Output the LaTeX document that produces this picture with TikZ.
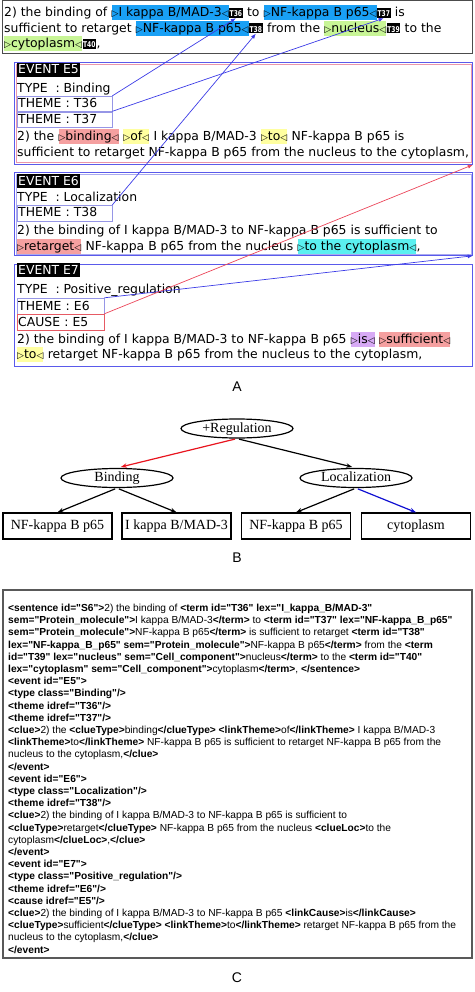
\documentclass[tikz,border=0pt]{standalone}
\usepackage{fontspec}
\setmainfont{Liberation Serif}
\newfontfamily\gothic{DejaVu Sans}
\newfontfamily\helv{Liberation Sans}
\usepackage{tikz}
\usetikzlibrary{arrows.meta,positioning,shapes.geometric}
\usepackage{xcolor}

\definecolor{hlblue}{RGB}{25,160,245}
\definecolor{hlgreen}{RGB}{200,245,150}
\definecolor{hlpink}{RGB}{245,160,160}
\definecolor{hlyellow}{RGB}{255,255,160}
\definecolor{hlcyan}{RGB}{90,240,240}
\definecolor{hlviolet}{RGB}{215,170,245}
\definecolor{linkblue}{RGB}{60,60,230}
\definecolor{linkred}{RGB}{235,70,90}
\definecolor{frameblue}{RGB}{90,90,235}
\definecolor{framepink}{RGB}{235,150,170}
\definecolor{framelav}{RGB}{170,170,240}
\definecolor{fieldblue}{RGB}{150,150,230}
\definecolor{fieldred}{RGB}{230,90,100}
\definecolor{treered}{RGB}{232,20,30}
\definecolor{treeblue}{RGB}{16,16,210}

\newcommand\evfont{\gothic\fontsize{12.4}{15}\selectfont}
\newcommand\xmlfont{\helv\fontsize{10.2}{12.2}\selectfont}
\newcommand\trL{{\fontsize{9}{9}\selectfont ▷}}
\newcommand\trR{{\fontsize{9}{9}\selectfont ◁}}
\newcommand\tid[1]{\scalebox{0.75}[1]{\bfseries #1}}
\newcommand\xb[1]{\textbf{#1}}
\newcommand\tsp{\ \mbox{}}

\begin{document}
\begin{tikzpicture}[x=1pt,y=-1pt]

    % --- Global Settings ---
    \tikzset{
        chunk/.style={inner sep=0pt, text height=11.5pt, text depth=3.5pt, font=\evfont, anchor=base west},
        hl/.style={chunk, fill=#1},
        idtag/.style={fill=black, text=white, inner xsep=0.6pt, inner ysep=0pt, text height=9pt, text depth=1pt, font=\gothic\fontsize{8}{8}\selectfont, anchor=base west},
        evhead/.style={fill=black, text=white, inner sep=1pt, text height=10pt, text depth=2pt, font=\evfont, anchor=west},
        field/.style={draw=#1, text width=93pt, align=left, inner xsep=1pt, inner ysep=0.5pt, text height=11.5pt, text depth=3.5pt, font=\evfont, anchor=west},
        evframe/.style={draw=frameblue, line width=0.8pt, anchor=north west, minimum width=458pt, inner sep=0pt},
        evlink/.style={-{Latex[length=5pt,width=4pt]}, draw=#1, line width=0.7pt},
        ev/.style={ellipse, draw, line width=1.2pt, minimum width=112pt, minimum height=19pt, inner sep=0pt, text height=9pt, text depth=1.5pt, font=\fontsize{14}{14}\selectfont},
        leaf/.style={rectangle, draw, line width=1.2pt, minimum width=109pt, minimum height=26pt, inner sep=0pt, font=\fontsize{14}{14}\selectfont},
        treearrow/.style={-{Stealth[length=6pt,width=4.5pt]}, line width=1.2pt},
        panel/.style={font=\helv\fontsize{14}{14}\selectfont},
        xml/.style={anchor=base west, inner sep=0pt, font=\xmlfont}
    }

    \useasboundingbox (0,0) rectangle (474,992);

    % --- Panel A: tagged sentence ---
    \draw[gray!60!black, line width=0.8pt] (2,0.5) rectangle (472,53);

    \node[chunk] (a1) at (4,17) {2) the binding of\tsp};
    \node[hl=hlblue, base right=0pt of a1] (a2) {\trL I kappa B/MAD-3\trR};
    \node[idtag, base right=0pt of a2] (t36) {\tid{T36}};
    \node[chunk, base right=0pt of t36] (a3) {\ to\tsp};
    \node[hl=hlblue, base right=0pt of a3] (a4) {\trL NF-kappa B p65\trR};
    \node[idtag, base right=0pt of a4] (t37) {\tid{T37}};
    \node[chunk, base right=0pt of t37] (a5) {\ is};

    \node[chunk] (b1) at (4,32.5) {sufficient to retarget\tsp};
    \node[hl=hlblue, base right=0pt of b1] (b2) {\trL NF-kappa B p65\trR};
    \node[idtag, base right=0pt of b2] (t38) {\tid{T38}};
    \node[chunk, base right=0pt of t38] (b3) {\ from the\tsp};
    \node[hl=hlgreen, base right=0pt of b3] (b4) {\trL nucleus\trR};
    \node[idtag, base right=0pt of b4] (t39) {\tid{T39}};
    \node[chunk, base right=0pt of t39] (b5) {\ to the};

    \node[hl=hlgreen] (c1) at (4,48) {\trL cytoplasm\trR};
    \node[idtag, base right=0pt of c1] (t40) {\tid{T40}};
    \node[chunk, base right=0pt of t40] (c2) {,};

    % --- Panel A: event E5 ---
    \node[evframe, minimum height=102pt] (e5) at (14,62) {};
    \draw[framepink, line width=0.6pt] ([shift={(2,2)}]e5.north west) rectangle ([shift={(-2,-2)}]e5.south east);
    \node[evhead] (h5) at (17,70) {EVENT E5};
    \node[chunk] (ty5) at (17,92.5) {TYPE\ \ : Binding};
    \node[field=fieldblue] (th36) at (17,104) {THEME : T36};
    \node[field=fieldblue] (th37) at (17,119.5) {THEME : T37};
    \node[chunk] (d1) at (17,140.5) {2) the\tsp};
    \node[hl=hlpink, base right=0pt of d1] (d2) {\trL binding\trR};
    \node[chunk, base right=0pt of d2] (d3) {\tsp};
    \node[hl=hlyellow, base right=0pt of d3] (d4) {\trL of\trR};
    \node[chunk, base right=0pt of d4] (d5) {\ I kappa B/MAD-3\tsp};
    \node[hl=hlyellow, base right=0pt of d5] (d6) {\trL to\trR};
    \node[chunk, base right=0pt of d6] (d7) {\ NF-kappa B p65 is};
    \node[chunk] (d8) at (17,156.5) {sufficient to retarget NF-kappa B p65 from the nucleus to the cytoplasm,};

    % --- Panel A: event E6 ---
    \node[evframe, minimum height=83pt] (e6) at (14,172) {};
    \draw[framelav, line width=0.6pt] ([shift={(2,2)}]e6.north west) rectangle ([shift={(-2,-2)}]e6.south east);
    \node[evhead] (h6) at (17,181.5) {EVENT E6};
    \node[chunk] (ty6) at (17,201.5) {TYPE\ \ : Localization};
    \node[field=fieldblue] (th38) at (17,213) {THEME : T38};
    \node[chunk] (f1) at (17,234.5) {2) the binding of I kappa B/MAD-3 to NF-kappa B p65 is sufficient to};
    \node[hl=hlpink] (f2) at (17,250.5) {\trL retarget\trR};
    \node[chunk, base right=0pt of f2] (f3) {\ NF-kappa B p65 from the nucleus\tsp};
    \node[hl=hlcyan, base right=0pt of f3] (f4) {\trL to the cytoplasm\trR};
    \node[chunk, base right=0pt of f4] (f5) {,};

    % --- Panel A: event E7 ---
    \node[evframe, minimum height=102pt] (e7) at (14,264) {};
    \node[evhead] (h7) at (17,270) {EVENT E7};
    \node[chunk] (ty7) at (17,293.5) {TYPE\ \ : Positive\_regulation};
    \node[field=fieldblue, text width=85pt] (the6) at (17,306) {THEME : E6};
    \node[field=fieldred, text width=85pt] (ce5) at (17,322) {CAUSE : E5};
    \node[chunk] (g1) at (17,343) {2) the binding of I kappa B/MAD-3 to NF-kappa B p65\tsp};
    \node[hl=hlviolet, base right=0pt of g1] (g2) {\trL is\trR};
    \node[chunk, base right=0pt of g2] (g3) {\tsp};
    \node[hl=hlpink, base right=0pt of g3] (g4) {\trL sufficient\trR};
    \node[hl=hlyellow] (g5) at (17,358.5) {\trL to\trR};
    \node[chunk, base right=0pt of g5] (g6) {\ retarget NF-kappa B p65 from the nucleus to the cytoplasm,};

    % links from arguments to terms and events
    \draw[evlink=linkblue] (th36.north east) -- (t36.south);
    \draw[evlink=linkblue] (th37.north east) -- (t37.south);
    \draw[evlink=linkblue] (th38.north east) -- (t38.south);
    \draw[evlink=linkblue] (the6.north east) -- (e6.south east);
    \draw[evlink=linkred] (ce5.north east) -- (e5.south east);

    \node[panel] (labA) at (237,387) {A};

    % --- Panel B: event tree ---
    \node[ev] (reg) at (237,428.5) {+Regulation};
    \node[ev] (bind) at (117,478) {Binding};
    \node[ev] (loc) at (356,478) {Localization};
    \node[leaf] (p1) at (57.5,526) {NF-kappa B p65};
    \node[leaf] (p2) at (176.5,526) {I kappa B/MAD-3};
    \node[leaf] (p3) at (296,526) {NF-kappa B p65};
    \node[leaf] (p4) at (416,526) {cytoplasm};

    \draw[treearrow, treered, shorten <=2pt, shorten >=4pt] (reg.south) -- (bind.north);
    \draw[treearrow, shorten <=2pt, shorten >=4pt] (reg.south) -- (loc.north);
    \draw[treearrow, shorten <=2pt] (bind.south) -- (p1.north);
    \draw[treearrow, shorten <=2pt] (bind.south) -- (p2.north);
    \draw[treearrow, shorten <=2pt] (loc.south) -- (p3.north);
    \draw[treearrow, treeblue, shorten <=2pt] (loc.south) -- (p4.north);

    \node[panel] (labB) at (237,558) {B};

    % --- Panel C: XML markup ---
    \draw[gray!70!black, line width=1.2pt] (3,590) rectangle (472,958);

    \foreach \xline [count=\i] in {
        {\xb{<sentence id="S6">}2) the binding of \xb{<term id="T36" lex="I\_kappa\_B/MAD-3"}},
        {\xb{sem="Protein\_molecule">}I kappa B/MAD-3\xb{</term>} to \xb{<term id="T37" lex="NF-kappa\_B\_p65"}},
        {\xb{sem="Protein\_molecule">}NF-kappa B p65\xb{</term>} is sufficient to retarget \xb{<term id="T38"}},
        {\xb{lex="NF-kappa\_B\_p65" sem="Protein\_molecule">}NF-kappa B p65\xb{</term>} from the \xb{<term}},
        {\xb{id="T39" lex="nucleus" sem="Cell\_component">}nucleus\xb{</term>} to the \xb{<term id="T40"}},
        {\xb{lex="cytoplasm" sem="Cell\_component">}cytoplasm\xb{</term>}, \xb{</sentence>}},
        {\xb{<event id="E5">}},
        {\xb{<type class="Binding"/>}},
        {\xb{<theme idref="T36"/>}},
        {\xb{<theme idref="T37"/>}},
        {\xb{<clue>}2) the \xb{<clueType>}binding\xb{</clueType>} \xb{<linkTheme>}of\xb{</linkTheme>} I kappa B/MAD-3},
        {\xb{<linkTheme>}to\xb{</linkTheme>} NF-kappa B p65 is sufficient to retarget NF-kappa B p65 from the},
        {nucleus to the cytoplasm,\xb{</clue>}},
        {\xb{</event>}},
        {\xb{<event id="E6">}},
        {\xb{<type class="Localization"/>}},
        {\xb{<theme idref="T38"/>}},
        {\xb{<clue>}2) the binding of I kappa B/MAD-3 to NF-kappa B p65 is sufficient to},
        {\xb{<clueType>}retarget\xb{</clueType>} NF-kappa B p65 from the nucleus \xb{<clueLoc>}to the},
        {cytoplasm\xb{</clueLoc>},\xb{</clue>}},
        {\xb{</event>}},
        {\xb{<event id="E7">}},
        {\xb{<type class="Positive\_regulation"/>}},
        {\xb{<theme idref="E6"/>}},
        {\xb{<cause idref="E5"/>}},
        {\xb{<clue>}2) the binding of I kappa B/MAD-3 to NF-kappa B p65 \xb{<linkCause>}is\xb{</linkCause>}},
        {\xb{<clueType>}sufficient\xb{</clueType>} \xb{<linkTheme>}to\xb{</linkTheme>} retarget NF-kappa B p65 from the},
        {nucleus to the cytoplasm,\xb{</clue>}},
        {\xb{</event>}}} {
        \node[xml] (x\i) at (8,{611.5+12.2*(\i-1)}) {\xline};
    }

    \node[panel] (labC) at (237,978) {C};

\end{tikzpicture}
\end{document}
